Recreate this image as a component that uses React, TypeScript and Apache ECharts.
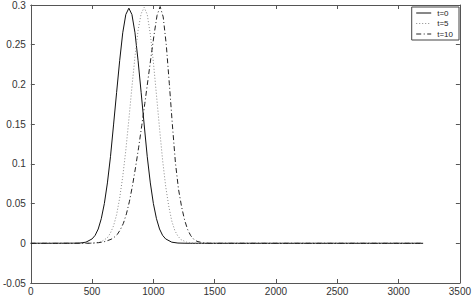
import React, { useEffect, useRef } from "react";
import * as echarts from "echarts";

// x positions and values
const t0X = [0, 200, 300, 350, 400, 450, 500, 525, 550, 575, 600, 625, 650, 675, 700, 725, 750, 775, 800, 825, 850, 875, 900, 925, 950, 975, 1000, 1025, 1050, 1075, 1100, 1150, 1200, 1250, 1300, 2000, 3200];
const t0Y = [0, 0, 0.0001, 0.0001, 0.0003, 0.0014, 0.0055, 0.010, 0.018, 0.031, 0.050, 0.076, 0.109, 0.149, 0.190, 0.230, 0.265, 0.288, 0.296, 0.288, 0.265, 0.230, 0.190, 0.149, 0.109, 0.076, 0.050, 0.031, 0.018, 0.010, 0.0055, 0.0014, 0.0003, 0.0001, 0, 0, 0];

const t5X = [0, 300, 425, 475, 525, 575, 625, 650, 675, 700, 725, 750, 775, 800, 825, 850, 875, 900, 925, 950, 975, 1000, 1025, 1050, 1075, 1100, 1125, 1150, 1175, 1200, 1225, 1275, 1325, 1375, 2000, 3200];
const t5Y = [0, 0, 0, 0.0001, 0.0005, 0.0019, 0.007, 0.013, 0.022, 0.036, 0.057, 0.084, 0.117, 0.156, 0.197, 0.235, 0.268, 0.289, 0.297, 0.288, 0.263, 0.228, 0.187, 0.145, 0.105, 0.072, 0.047, 0.028, 0.016, 0.009, 0.0046, 0.0011, 0.0002, 0, 0, 0];

const t10X = [0, 300, 455, 505, 555, 605, 655, 680, 705, 730, 755, 780, 805, 830, 855, 880, 905, 930, 955, 980, 1005, 1030, 1055, 1080, 1105, 1130, 1155, 1180, 1205, 1230, 1255, 1280, 1305, 1330, 1355, 1405, 1455, 2000, 3200];
const t10Y = [0, 0, 0, 0.0002, 0.0008, 0.0022, 0.005, 0.0075, 0.011, 0.017, 0.025, 0.037, 0.053, 0.073, 0.096, 0.121, 0.148, 0.176, 0.205, 0.234, 0.262, 0.287, 0.298, 0.285, 0.250, 0.201, 0.149, 0.101, 0.068, 0.046, 0.029, 0.017, 0.0095, 0.005, 0.0025, 0.0005, 0, 0, 0];

const seriesNames = ["t=0", "t=5", "t=10"];

const zip = (xs: number[], ys: number[]) => xs.map((x, i) => [x, ys[i]]);

export default function App() {
  const ref = useRef<HTMLDivElement>(null);
  useEffect(() => {
    if (!ref.current) return;
    const chart = echarts.init(ref.current, null, { renderer: "svg" });
    const font = "Liberation Sans, Arial, sans-serif";
    const frame = "#555";
    const baseAxis = {
      type: "value" as const,
      axisLine: { show: true, onZero: false, lineStyle: { color: frame, width: 1 } },
      splitLine: { show: false },
      axisTick: { show: true, inside: true, length: 4, lineStyle: { color: frame } },
    };
    chart.setOption({
      animation: false,
      backgroundColor: "#fff",
      grid: { left: 27.5, right: 11, top: 4, bottom: 12.5 },
      xAxis: [
        {
          ...baseAxis,
          position: "bottom",
          min: 0,
          max: 3500,
          interval: 500,
          axisLabel: {
            color: "#333",
            fontSize: 10,
            fontFamily: font,
            margin: 3,
            formatter: (v: number) => String(v),
          },
        },
        {
          ...baseAxis,
          position: "top",
          min: 0,
          max: 3500,
          interval: 500,
          axisLabel: { show: false },
        },
      ],
      yAxis: [
        {
          ...baseAxis,
          position: "left",
          min: -0.05,
          max: 0.3,
          interval: 0.05,
          axisLabel: {
            color: "#333",
            fontSize: 10,
            fontFamily: font,
            margin: 5,
            formatter: (v: number) => String(+v.toFixed(2)),
          },
        },
        {
          ...baseAxis,
          position: "right",
          min: -0.05,
          max: 0.3,
          interval: 0.05,
          axisLabel: { show: false },
        },
      ],
      legend: {
        show: true,
        orient: "vertical",
        right: 15,
        top: 7,
        itemWidth: 15,
        itemHeight: 6,
        itemGap: 2.5,
        padding: [2, 6, 2, 4],
        borderColor: "#444",
        borderWidth: 1,
        backgroundColor: "#fff",
        itemStyle: { opacity: 0, borderWidth: 0 },
        lineStyle: { width: 1 },
        textStyle: { fontSize: 8, fontFamily: font, color: "#222", padding: [0, 0, 0, 1] },
        data: seriesNames,
      },
      series: [
        {
          name: seriesNames[0],
          type: "line",
          data: zip(t0X, t0Y),
          showSymbol: false,
          symbol: "none",
          lineStyle: { color: "#111", width: 1, type: "solid" },
          itemStyle: { color: "#111" },
        },
        {
          name: seriesNames[1],
          type: "line",
          data: zip(t5X, t5Y),
          showSymbol: false,
          symbol: "none",
          lineStyle: { color: "#888", width: 1, type: [1, 2] },
          itemStyle: { color: "#888" },
        },
        {
          name: seriesNames[2],
          type: "line",
          data: zip(t10X, t10Y),
          showSymbol: false,
          symbol: "none",
          lineStyle: { color: "#222", width: 1, type: [5, 2.5, 1, 2.5] },
          itemStyle: { color: "#222" },
        },
      ],
    });
    return () => chart.dispose();
  }, []);
  return (
    <div
      ref={ref}
      style={{ position: "fixed", left: 0, top: 0, width: 474, height: 296, background: "#fff" }}
    />
  );
}
